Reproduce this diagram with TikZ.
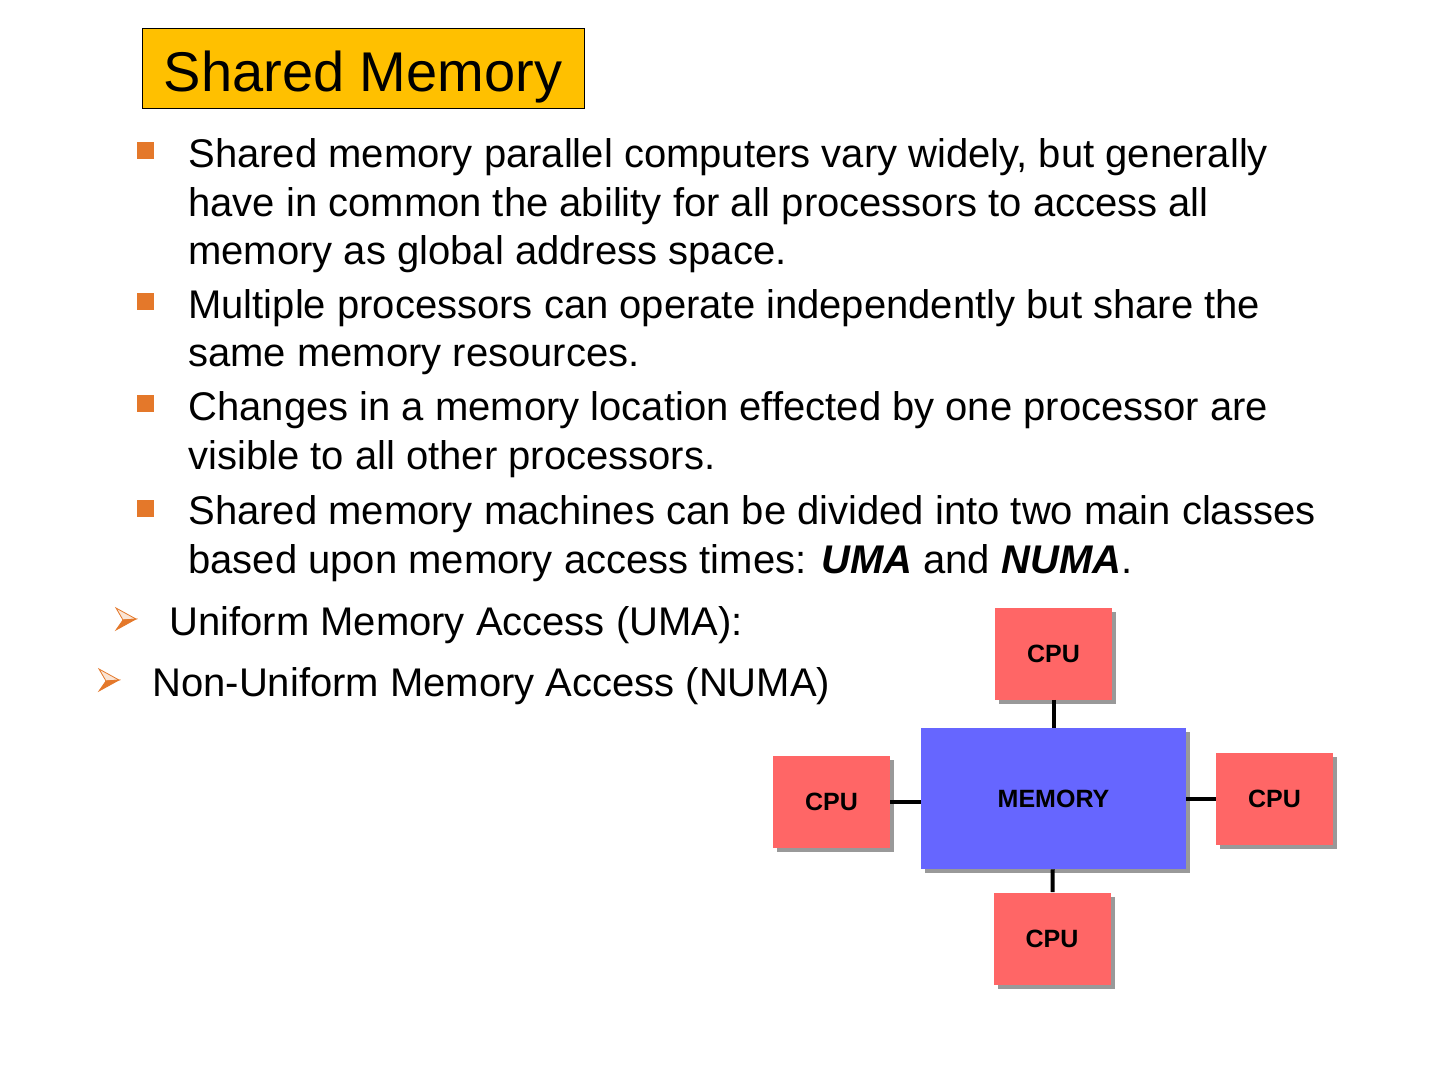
\documentclass[tikz,border=0pt]{standalone}
\usepackage{fontspec}
\setmainfont{Liberation Sans}
\usetikzlibrary{shadows}
\definecolor{titlegold}{RGB}{255,192,0}
\definecolor{cpured}{RGB}{255,102,102}
\definecolor{memblue}{RGB}{102,102,255}
\definecolor{bulletorange}{RGB}{228,120,42}

\begin{document}
\begin{tikzpicture}[x=0.5pt, y=-0.5pt,
                body text/.style={anchor=base west, align=left, inner sep=0pt,
                    font=\fontsize{20}{24.25}\selectfont},
                square bullet/.style={fill=bulletorange, inner sep=0pt, minimum size=8.5pt},
                unit box/.style={inner sep=0pt, font=\fontsize{12.5}{14}\selectfont\bfseries,
                    drop shadow={shadow xshift=2pt, shadow yshift=-2pt, opacity=0.4, fill=black}},
                cpu/.style={unit box, fill=cpured, minimum width=58.5pt, minimum height=46pt},
                link/.style={line width=2pt, black}
            ]

            \useasboundingbox (0,0) rectangle (1440,1080);

            % title
            \node[draw=black, line width=0.5pt, fill=titlegold, inner sep=0pt,
                minimum width=221pt, minimum height=40pt, text height=23pt, text depth=0pt,
                font=\fontsize{28}{34}\selectfont] (title) at (363,69) {Shared Memory};

            % bullet list (nodes sit on the baseline of their last line)
            \node[body text] (p1) at (188,265) {Shared memory parallel computers vary widely, but generally\\have in common the ability for all processors to access all\\memory as global address space.};
            \node[body text] (p2) at (188,367) {Multiple processors can operate independently but share the\\same memory resources.};
            \node[body text] (p3) at (188,469) {Changes in a memory location effected by one processor are\\visible to all other processors.};
            \node[body text] (p4) at (188,573) {Shared memory machines can be divided into two main classes\\based upon memory access times: \textbf{\textit{UMA}} and \textbf{\textit{NUMA}}.};
            \foreach \y [count=\i] in {150.5, 301.5, 403.5, 508.5}
                \node[square bullet] (bullet\i) at (145.5,\y) {};

            \node[body text] (uma) at (169,635) {Uniform Memory Access (UMA):};
            \node[body text] (numa) at (152,696) {Non-Uniform Memory Access (NUMA)};
            \foreach \n in {uma, numa} {
                \begin{scope}[shift={(\n.base west)}]
                    \filldraw[draw=bulletorange, fill=bulletorange!20, line width=0.4pt] (-53,-27) -- (-33,-16) -- (-46,-15) -- cycle;
                    \filldraw[draw=bulletorange, fill=bulletorange, line width=0.4pt] (-33,-16) -- (-53,-5) -- (-46,-15) -- cycle;
                \end{scope}
            }

            % memory and processors
            \node[unit box, fill=memblue, minimum width=132.5pt, minimum height=70.5pt] (mem) at (1053.5,798.5) {MEMORY};
            \node[cpu] (cpu top) at (1053.5,653.5) {CPU};
            \node[cpu] (cpu left) at (831.5,802) {CPU};
            \node[cpu] (cpu right) at (1274.5,798.5) {CPU};
            \node[cpu] (cpu bottom) at (1052,938.5) {CPU};

            \draw[link] (cpu top) -- (mem);
            \draw[link] (cpu bottom) -- (mem);
            \draw[link] (cpu left.east) -- (cpu left.east -| mem.west);
            \draw[link] (cpu right.west) -- (cpu right.west -| mem.east);
        \end{tikzpicture}
\end{document}
